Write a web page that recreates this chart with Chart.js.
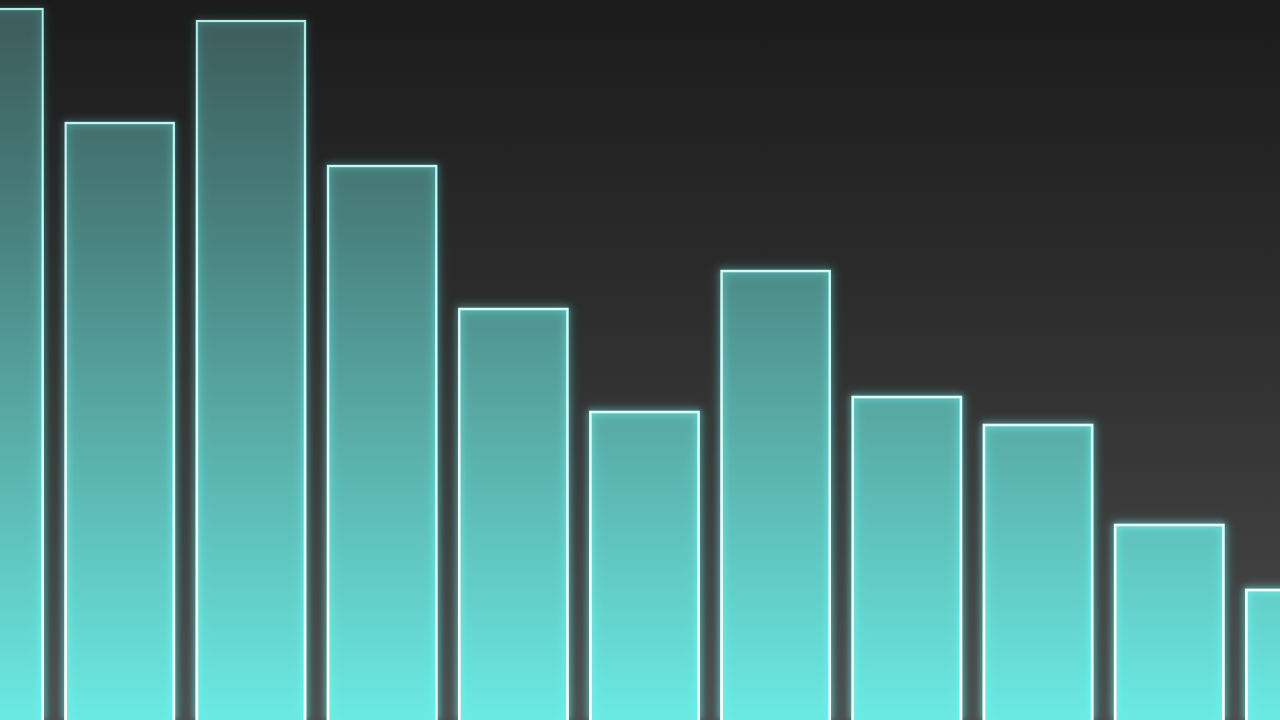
<!DOCTYPE html>
<html>
<head>
<meta charset="utf-8">
<script src="https://cdn.jsdelivr.net/npm/chart.js@4"></script>
<style>
  html, body {
    margin: 0;
    width: 1280px;
    height: 720px;
    overflow: hidden;
    background: linear-gradient(to bottom, #1b1b1b 0%, #2e2e2e 45%, #4a4a4a 100%);
  }
  #wrap {
    position: absolute;
    left: -77px;
    top: 0;
    width: 1443px;
    height: 720px;
  }
</style>
</head>
<body>
<div id="wrap"><canvas id="bars"></canvas></div>
<script>
  // categories and values (value = bar height on a 0..720 scale)
  const labels = ["1", "2", "3", "4", "5", "6", "7", "8", "9", "10", "11"];
  const values = [712, 598, 700, 555, 412, 309, 450, 324, 296, 196, 131];

  const fillGradient = (context) => {
    const { ctx, chartArea } = context.chart;
    if (!chartArea) return "#5aa9a5";
    const g = ctx.createLinearGradient(0, chartArea.top, 0, chartArea.bottom);
    g.addColorStop(0, "#3b5a58");
    g.addColorStop(0.3, "#487f7c");
    g.addColorStop(0.6, "#59aca7");
    g.addColorStop(1, "#6aeae2");
    return g;
  };

  const borderGradient = (context) => {
    const { ctx, chartArea } = context.chart;
    if (!chartArea) return "#b8f0ec";
    const g = ctx.createLinearGradient(0, chartArea.top, 0, chartArea.bottom);
    g.addColorStop(0, "#9fe0da");
    g.addColorStop(0.5, "#d0faf6");
    g.addColorStop(1, "#ffffff");
    return g;
  };

  // glow along the bar edges, getting stronger toward the bottom
  const glow = {
    id: "glow",
    afterDatasetsDraw(chart) {
      const ctx = chart.ctx;
      const area = chart.chartArea;
      chart.getDatasetMeta(0).data.forEach((bar) => {
        const left = bar.x - bar.width / 2;
        const right = bar.x + bar.width / 2;
        const top = bar.y;
        const bottom = bar.base;

        const g = ctx.createLinearGradient(0, area.top, 0, area.bottom);
        g.addColorStop(0, "rgba(200, 255, 250, 0.2)");
        g.addColorStop(0.45, "rgba(220, 255, 252, 0.6)");
        g.addColorStop(1, "rgba(255, 255, 255, 1)");

        ctx.save();
        ctx.shadowColor = "rgba(100, 255, 245, 1)";
        ctx.strokeStyle = g;
        ctx.lineWidth = 2.5;
        [12, 6].forEach((blur) => {
          ctx.shadowBlur = blur;
          ctx.beginPath();
          ctx.moveTo(left + 1, bottom);
          ctx.lineTo(left + 1, top + 1);
          ctx.lineTo(right - 1, top + 1);
          ctx.lineTo(right - 1, bottom);
          ctx.stroke();
        });
        ctx.restore();
      });
    },
  };

  new Chart(document.getElementById("bars").getContext("2d"), {
    type: "bar",
    data: {
      labels: labels,
      datasets: [
        {
          data: values,
          backgroundColor: fillGradient,
          borderColor: borderGradient,
          borderWidth: 2,
          borderSkipped: "bottom",
          barPercentage: 0.84,
          categoryPercentage: 1,
        },
      ],
    },
    options: {
      responsive: true,
      maintainAspectRatio: false,
      animation: false,
      layout: { padding: 0 },
      plugins: {
        legend: { display: false },
        tooltip: { enabled: false },
      },
      scales: {
        x: { display: false, offset: true },
        y: { display: false, min: 0, max: 720 },
      },
    },
    plugins: [glow],
  });
</script>
</body>
</html>
